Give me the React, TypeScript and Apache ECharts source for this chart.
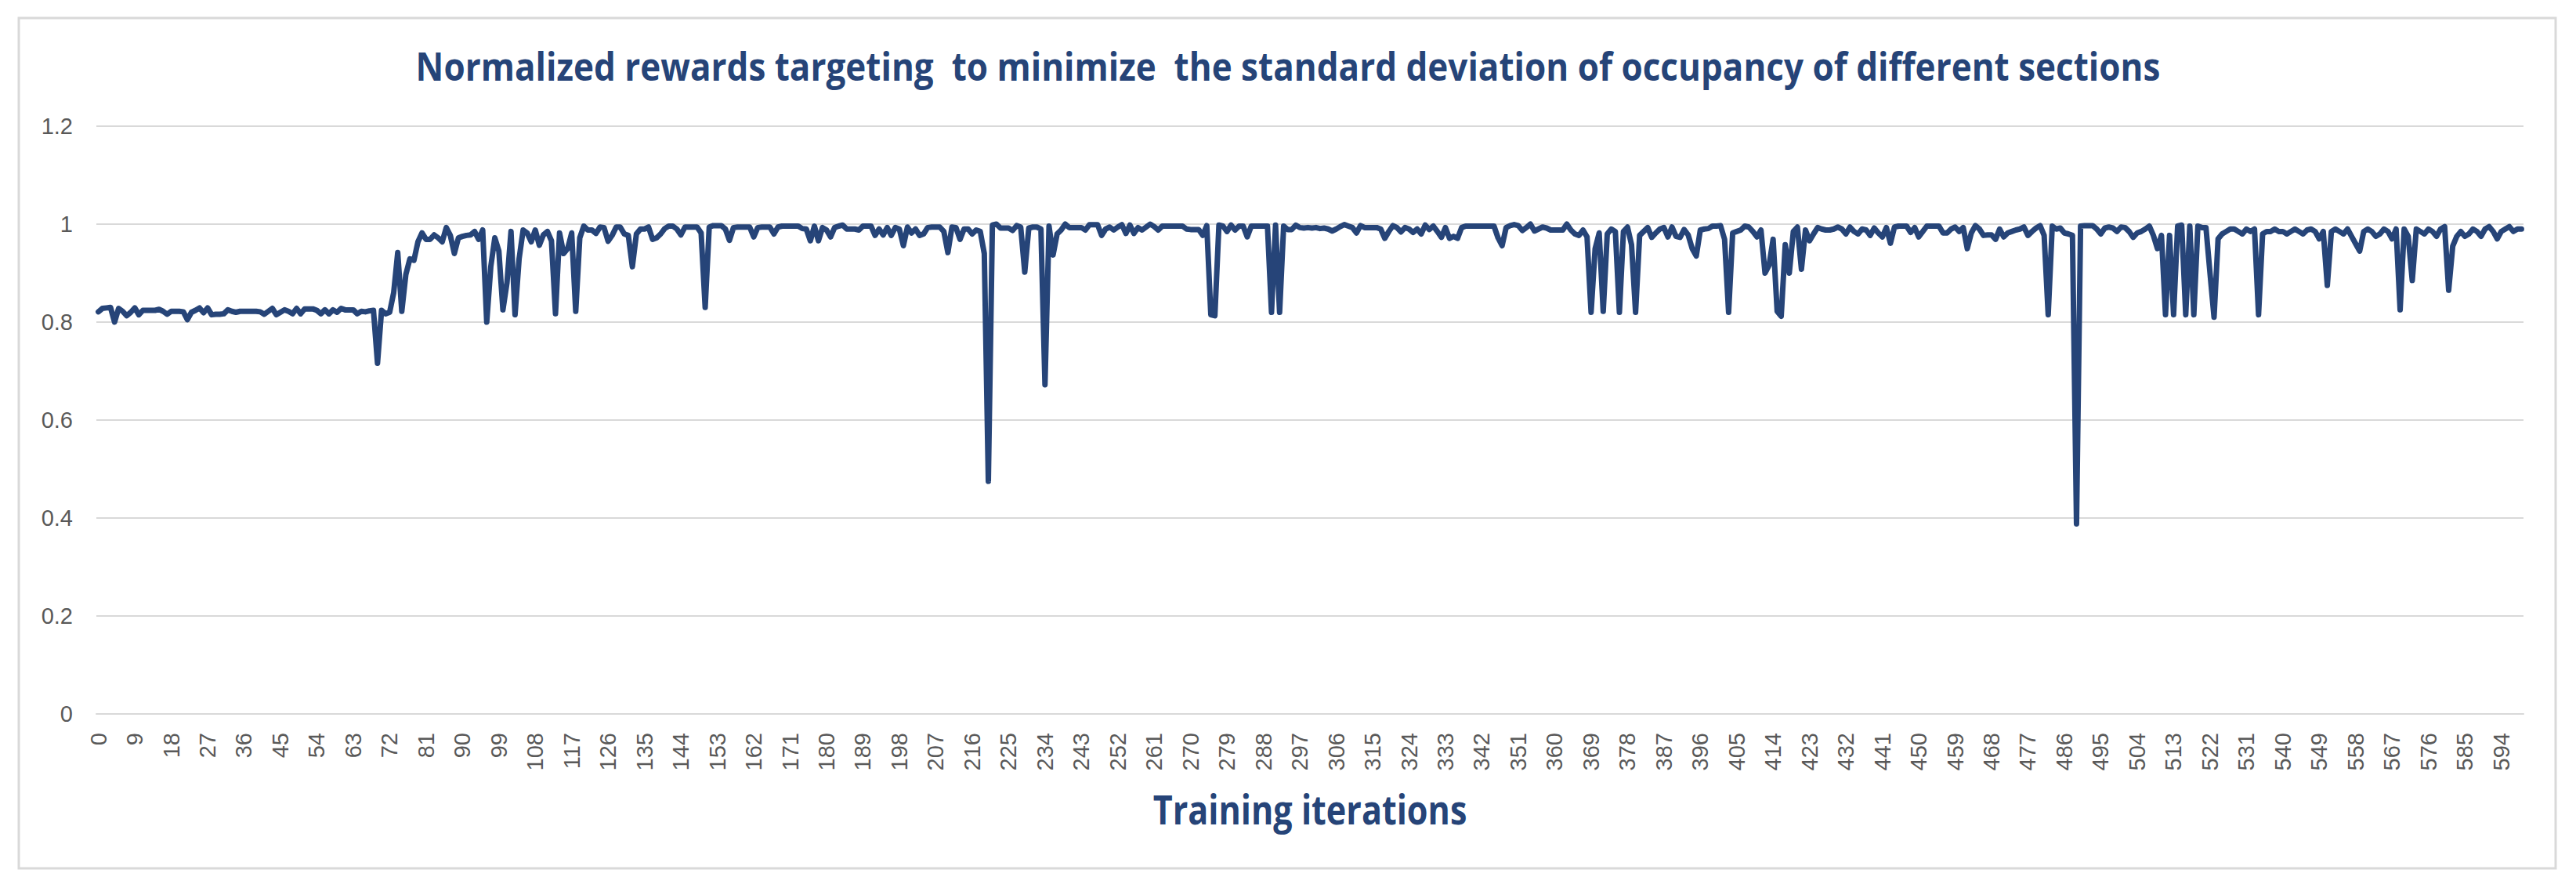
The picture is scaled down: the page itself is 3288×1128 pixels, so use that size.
import React, { useEffect, useRef } from "react";
import * as echarts from "echarts";

const TITLE =
  "Normalized rewards targeting  to minimize  the standard deviation of occupancy of different sections";
const X_NAME = "Training iterations";
const Y_MIN = 0;
const Y_MAX = 1.2;
const Y_STEP = 0.2;

// rewards, iterations 0-99
const SEG_A = [
  0.821, 0.828, 0.829, 0.83, 0.8, 0.828, 0.822, 0.813, 0.82, 0.829,
  0.815, 0.824, 0.824, 0.824, 0.824, 0.826, 0.822, 0.816, 0.822, 0.822,
  0.822, 0.821, 0.805, 0.82, 0.824, 0.829, 0.819, 0.829, 0.815, 0.816,
  0.816, 0.817, 0.825, 0.822, 0.82, 0.822, 0.822, 0.822, 0.822, 0.822,
  0.821, 0.816, 0.822, 0.828, 0.815, 0.82, 0.825, 0.822, 0.817, 0.828,
  0.817, 0.827, 0.827, 0.827, 0.824, 0.817, 0.825, 0.817, 0.825, 0.82,
  0.828, 0.825, 0.825, 0.825, 0.817, 0.822, 0.821, 0.823, 0.824, 0.716,
  0.824, 0.817, 0.82, 0.86, 0.942, 0.822, 0.897, 0.929, 0.926, 0.964,
  0.982, 0.969, 0.969, 0.978, 0.972, 0.964, 0.993, 0.977, 0.94, 0.972,
  0.975, 0.977, 0.978, 0.985, 0.969, 0.988, 0.8, 0.913, 0.972, 0.945,
];
// iterations 100-199
const SEG_B = [
  0.825, 0.88, 0.985, 0.815, 0.929, 0.988, 0.982, 0.964, 0.988, 0.957,
  0.978, 0.985, 0.966, 0.817, 0.982, 0.94, 0.95, 0.982, 0.822, 0.972,
  0.996, 0.988, 0.988, 0.981, 0.994, 0.993, 0.965, 0.977, 0.994, 0.994,
  0.98, 0.977, 0.913, 0.98, 0.99, 0.99, 0.994, 0.969, 0.972, 0.98,
  0.991, 0.996, 0.996, 0.99, 0.978, 0.994, 0.994, 0.994, 0.994, 0.982,
  0.83, 0.994, 0.997, 0.997, 0.997, 0.99, 0.967, 0.993, 0.994, 0.994,
  0.994, 0.994, 0.974, 0.993, 0.994, 0.994, 0.994, 0.98, 0.994, 0.996,
  0.996, 0.996, 0.996, 0.996, 0.991, 0.99, 0.966, 0.996, 0.966, 0.993,
  0.988, 0.974, 0.993, 0.996, 0.998, 0.99, 0.99, 0.99, 0.988, 0.996,
  0.996, 0.996, 0.977, 0.99, 0.978, 0.993, 0.977, 0.993, 0.99, 0.956,
];
// iterations 200-299
const SEG_C = [
  0.994, 0.982, 0.99, 0.977, 0.98, 0.993, 0.994, 0.994, 0.994, 0.985,
  0.942, 0.994, 0.993, 0.969, 0.99, 0.99, 0.98, 0.988, 0.985, 0.94,
  0.475, 0.998, 1.0, 0.992, 0.992, 0.992, 0.987, 0.997, 0.994, 0.902,
  0.992, 0.994, 0.994, 0.99, 0.672, 0.996, 0.937, 0.98, 0.988, 1.0,
  0.993, 0.993, 0.993, 0.993, 0.988, 0.999, 0.999, 0.999, 0.977, 0.99,
  0.994, 0.988, 0.994, 0.999, 0.981, 0.998, 0.981, 0.993, 0.988, 0.994,
  1.0, 0.995, 0.988, 0.996, 0.996, 0.996, 0.996, 0.996, 0.996, 0.99,
  0.989, 0.989, 0.989, 0.977, 0.997, 0.815, 0.813, 0.998, 0.996, 0.985,
  0.998, 0.988, 0.996, 0.996, 0.974, 0.996, 0.996, 0.996, 0.996, 0.996,
  0.82, 0.998, 0.82, 0.996, 0.989, 0.989, 0.998, 0.993, 0.992, 0.993,
];
// iterations 300-399
const SEG_D = [
  0.992, 0.993, 0.991, 0.992, 0.99, 0.986, 0.99, 0.995, 0.999, 0.996,
  0.993, 0.982, 0.997, 0.993, 0.993, 0.993, 0.993, 0.99, 0.971, 0.985,
  0.997, 0.993, 0.984, 0.993, 0.99, 0.983, 0.99, 0.98, 0.998, 0.989,
  0.996, 0.985, 0.973, 0.993, 0.971, 0.975, 0.971, 0.993, 0.996, 0.996,
  0.996, 0.996, 0.996, 0.996, 0.996, 0.996, 0.972, 0.956, 0.993, 0.997,
  0.999, 0.997, 0.987, 0.993, 1.0, 0.986, 0.99, 0.994, 0.992, 0.988,
  0.988, 0.988, 0.988, 1.0, 0.988, 0.98, 0.977, 0.988, 0.974, 0.82,
  0.95, 0.982, 0.822, 0.98, 0.99, 0.985, 0.82, 0.985, 0.994, 0.958,
  0.82, 0.977, 0.985, 0.993, 0.973, 0.982, 0.99, 0.993, 0.974, 0.994,
  0.975, 0.973, 0.989, 0.978, 0.95, 0.935, 0.988, 0.99, 0.991, 0.996,
];
// iterations 400-499
const SEG_E = [
  0.996, 0.997, 0.969, 0.82, 0.982, 0.985, 0.988, 0.996, 0.994, 0.985,
  0.974, 0.988, 0.9, 0.916, 0.969, 0.822, 0.812, 0.958, 0.9, 0.985,
  0.994, 0.908, 0.988, 0.966, 0.98, 0.993, 0.99, 0.988, 0.988, 0.99,
  0.994, 0.99, 0.98, 0.994, 0.985, 0.98, 0.99, 0.988, 0.977, 0.992,
  0.982, 0.974, 0.993, 0.961, 0.994, 0.996, 0.996, 0.996, 0.983, 0.993,
  0.974, 0.985, 0.996, 0.996, 0.996, 0.996, 0.982, 0.982, 0.99, 0.994,
  0.985, 0.993, 0.95, 0.982, 0.997, 0.99, 0.977, 0.978, 0.978, 0.969,
  0.99, 0.974, 0.982, 0.985, 0.988, 0.99, 0.994, 0.977, 0.985, 0.992,
  0.997, 0.977, 0.815, 0.996, 0.99, 0.992, 0.982, 0.98, 0.977, 0.388,
  0.996, 0.997, 0.997, 0.997, 0.99, 0.98, 0.992, 0.994, 0.992, 0.985,
];
// iterations 500-599
const SEG_F = [
  0.994, 0.993, 0.985, 0.973, 0.982, 0.985, 0.99, 0.996, 0.977, 0.95,
  0.977, 0.815, 0.977, 0.815, 0.996, 0.998, 0.815, 0.996, 0.815, 0.996,
  0.993, 0.993, 0.9, 0.81, 0.97, 0.98, 0.985, 0.99, 0.99, 0.985,
  0.98, 0.99, 0.985, 0.99, 0.815, 0.98, 0.985, 0.985, 0.99, 0.985,
  0.985, 0.98, 0.985, 0.99, 0.985, 0.98, 0.988, 0.99, 0.985, 0.97,
  0.985, 0.875, 0.985, 0.99, 0.985, 0.98, 0.99, 0.975, 0.96, 0.945,
  0.985, 0.99, 0.985, 0.975, 0.98, 0.99, 0.985, 0.97, 0.99, 0.825,
  0.99, 0.975, 0.885, 0.99, 0.985, 0.98, 0.99, 0.985, 0.975, 0.99,
  0.995, 0.865, 0.955, 0.975, 0.985, 0.975, 0.98, 0.99, 0.985, 0.975,
  0.99, 0.995, 0.985, 0.97, 0.985, 0.99, 0.995, 0.985, 0.99, 0.99,
];

const REWARDS = [...SEG_A, ...SEG_B, ...SEG_C, ...SEG_D, ...SEG_E, ...SEG_F];
const CATEGORIES = REWARDS.map((_, i) => String(i));

const W = 3288;
const H = 1128;
const BLUE = "#264478";
const GRAY_TEXT = "#595959";
const GRID_GRAY = "#d9d9d9";
const BOLD_FAMILY = "'Open Sans', 'DejaVu Sans', sans-serif";
const LABEL_FAMILY = "'Liberation Sans', 'Open Sans', sans-serif";

function measureWidth(text: string, family: string, size: number, fallback: number) {
  try {
    const c = document.createElement("canvas");
    const ctx = c.getContext("2d");
    if (!ctx) return fallback;
    ctx.font = `bold ${size}px ${family}`;
    const w = ctx.measureText(text).width;
    return w > 0 ? w : fallback;
  } catch (e) {
    return fallback;
  }
}

export default function App() {
  const ref = useRef<HTMLDivElement>(null);

  useEffect(() => {
    document.body.style.margin = "0";
    if (!ref.current) return;
    const chart = echarts.init(ref.current, undefined, { renderer: "svg" });

    const titleSize = 50;
    const titleW = measureWidth(TITLE, BOLD_FAMILY, titleSize, 2900);
    const titleScaleX = 2227 / titleW;

    const nameSize = 52;
    const nameW = measureWidth(X_NAME, BOLD_FAMILY, nameSize, 560);
    const nameScaleX = 401 / nameW;

    const gridTop = 161;
    const gridBottomY = 911;
    const gridLeft = 123;
    const gridRightX = 3221;

    chart.setOption({
      animation: false,
      backgroundColor: "#ffffff",
      graphic: [
        {
          type: "rect",
          shape: { x: 24, y: 23, width: 3238, height: 1085 },
          style: { fill: "none", stroke: GRID_GRAY, lineWidth: 3 },
          silent: true,
        },
        {
          type: "text",
          x: W / 2,
          y: 84,
          scaleX: titleScaleX,
          scaleY: 1,
          style: {
            text: TITLE,
            fill: BLUE,
            fontSize: titleSize,
            fontWeight: "bold",
            fontFamily: BOLD_FAMILY,
            align: "center",
            verticalAlign: "middle",
          },
          silent: true,
        },
        {
          type: "text",
          x: (gridLeft + gridRightX) / 2,
          y: 1032,
          scaleX: nameScaleX,
          scaleY: 1,
          style: {
            text: X_NAME,
            fill: BLUE,
            fontSize: nameSize,
            fontWeight: "bold",
            fontFamily: BOLD_FAMILY,
            align: "center",
            verticalAlign: "middle",
          },
          silent: true,
        },
      ],
      grid: {
        left: gridLeft,
        right: W - gridRightX,
        top: gridTop,
        bottom: H - gridBottomY,
        containLabel: false,
      },
      xAxis: {
        type: "category",
        data: CATEGORIES,
        boundaryGap: true,
        axisLine: { show: true, lineStyle: { color: GRID_GRAY, width: 2 } },
        axisTick: { show: false },
        axisLabel: {
          interval: 8,
          rotate: 90,
          margin: 24,
          color: GRAY_TEXT,
          fontSize: 29,
          fontFamily: LABEL_FAMILY,
        },
        splitLine: { show: false },
      },
      yAxis: {
        type: "value",
        min: Y_MIN,
        max: Y_MAX,
        interval: Y_STEP,
        axisLine: { show: false },
        axisTick: { show: false },
        axisLabel: {
          margin: 30,
          color: GRAY_TEXT,
          fontSize: 29,
          fontFamily: LABEL_FAMILY,
          formatter: (v: number) => String(Math.round(v * 10) / 10),
        },
        splitLine: { show: true, lineStyle: { color: GRID_GRAY, width: 2 } },
      },
      series: [
        {
          type: "line",
          name: "Normalized reward",
          data: REWARDS,
          showSymbol: false,
          symbol: "none",
          lineStyle: { color: BLUE, width: 7, join: "round", cap: "round" },
          itemStyle: { color: BLUE },
        },
      ],
    });

    return () => {
      chart.dispose();
    };
  }, []);

  return <div ref={ref} style={{ width: W, height: H }} />;
}
